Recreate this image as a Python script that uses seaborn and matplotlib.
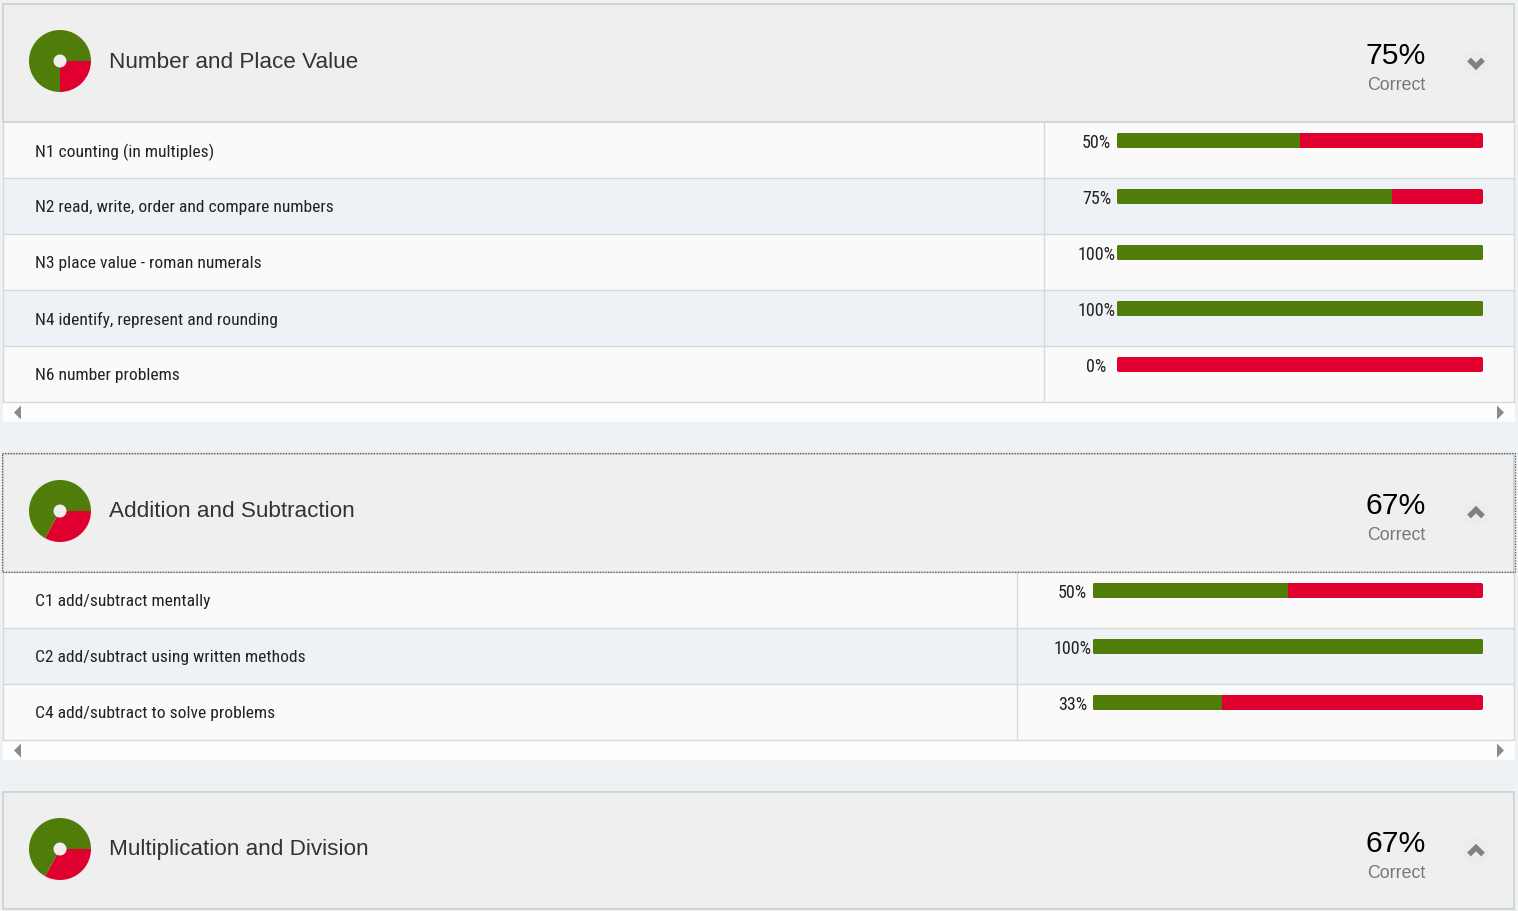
import matplotlib
matplotlib.use("Agg")
import matplotlib.pyplot as plt
from matplotlib.patches import Circle, FancyBboxPatch, Polygon, Rectangle
import pandas as pd
import seaborn as sns

# -------------------------
# Data
# -------------------------
section_titles = ["Number and Place Value", "Addition and Subtraction", "Multiplication and Division"]
section_scores = [75, 67, 67]

number_topics = [
    "N1 counting (in multiples)",
    "N2 read, write, order and compare numbers",
    "N3 place value - roman numerals",
    "N4 identify, represent and rounding",
    "N6 number problems",
]
number_correct = [50, 75, 100, 100, 0]

addition_topics = [
    "C1 add/subtract mentally",
    "C2 add/subtract using written methods",
    "C4 add/subtract to solve problems",
]
addition_correct = [50, 100, 33]

# -------------------------
# Colours and layout (pixels)
# -------------------------
GREEN = "#507c0a"
RED = "#df0030"
PAGE = "#eef2f5"
HEADER = "#efefef"
ROW_ODD = "#fafafa"
ROW_EVEN = "#eef2f6"
LINE = "#d6d8da"
WIDTH, HEIGHT = 1518, 912
ROW_H = 56
BAR_H = 15
LEFT = 3.0
RIGHT = 1514.0

HEAD = ["Liberation Sans", "DejaVu Sans"]
NARROW = ["Roboto Condensed", "Liberation Sans Narrow", "Roboto"]

sns.set_theme(style="white")
fig = plt.figure(figsize=(WIDTH / 100, HEIGHT / 100), dpi=100, facecolor=PAGE)
bg = fig.add_axes([0, 0, 1, 1])
bg.set_xlim(0, WIDTH)
bg.set_ylim(HEIGHT - 1, -1)
bg.set_axis_off()


def px_axes(x0, y0, x1, y1):
    """Axes placed by pixel box, y counted from the top."""
    ax = fig.add_axes([x0 / WIDTH, 1 - (y1 + 1) / HEIGHT, (x1 - x0) / WIDTH, (y1 - y0) / HEIGHT])
    ax.patch.set_alpha(0)
    return ax


def draw_header(top, bottom, title, score, chevron_up, dotted=False):
    bg.add_patch(Rectangle((LEFT, top), RIGHT - LEFT, bottom - top, fc=HEADER, ec="#cdd0d2", lw=1.2, zorder=3))
    if dotted:
        bg.add_patch(Rectangle((LEFT - 1, top - 1), RIGHT - LEFT + 2, bottom - top + 1, fc="none",
                               ec="#555555", lw=0.9, ls=(0, (1, 1.2)), zorder=3))
    mid = top + 57

    # score pie, red part runs clockwise from three o'clock
    pie_ax = px_axes(28, mid - 32, 92, mid + 32)
    pie_ax.pie([100 - score, score], colors=[RED, GREEN], startangle=0, counterclock=False,
               radius=31 / 32, wedgeprops={"width": 24.5 / 32, "linewidth": 0})
    pie_ax.set_xlim(-1, 1)
    pie_ax.set_ylim(-1, 1)

    bg.text(109, mid, title, fontsize=16.2, color="#333333", family=HEAD, va="center", ha="left", zorder=4)
    bg.text(1426, mid - 6, f"{score}%", fontsize=21.7, color="#000000", family=HEAD, va="center", ha="right", zorder=4)
    bg.text(1425, mid + 24, "Correct", fontsize=12.75, color="#777777", family=HEAD, va="center", ha="right", zorder=4)

    # expand button
    bg.add_patch(Circle((1476, mid + 2), 13, fc="#ececec", ec="none", zorder=4))
    tip = -3.5 if chevron_up else 3.5
    bg.plot([1469, 1476, 1483], [mid + 2 - tip, mid + 2 + tip, mid + 2 - tip], color="#808080",
            lw=3.8, solid_capstyle="butt", solid_joinstyle="miter", zorder=5)


def draw_table(top, topics, correct, divider, bar_left):
    n = len(topics)
    bottom = top + n * ROW_H
    for i, topic in enumerate(topics):
        y0 = top + i * ROW_H
        bg.add_patch(Rectangle((LEFT, y0 - 1), RIGHT - LEFT, ROW_H, fc=ROW_ODD if i % 2 == 0 else ROW_EVEN,
                               ec="none"))
        bg.plot([LEFT, RIGHT], [y0 + ROW_H - 1.5] * 2, color=LINE, lw=1)
        bg.text(35, y0 + 28, topic, fontsize=12.6, color="#222222", family=NARROW, va="center", ha="left")
        bg.text(bar_left - 20.5, y0 + 19, f"{correct[i]}%", fontsize=13, color="#222222",
                family=NARROW, va="center", ha="center")
    bg.plot([divider] * 2, [top, bottom - 1], color=LINE, lw=1)
    bg.plot([LEFT, LEFT], [top, bottom - 1], color=LINE, lw=1)
    bg.plot([RIGHT, RIGHT], [top, bottom - 1], color=LINE, lw=1)

    # scrollbar strip under the table
    bg.add_patch(Rectangle((LEFT, bottom - 1), RIGHT - LEFT + 1, 20, fc="#fdfdfd", ec="none"))
    mid = bottom + 9.5
    bg.add_patch(Polygon([(21, mid - 7), (21, mid + 7), (14, mid)], fc="#8a8a8a", ec="none"))
    bg.add_patch(Polygon([(1497, mid - 7), (1497, mid + 7), (1504, mid)], fc="#8a8a8a", ec="none"))

    # one band per row, centred on the bar rather than the row
    bar_mid = top + 17.5
    ax = px_axes(bar_left, bar_mid - ROW_H / 2, 1483, bar_mid - ROW_H / 2 + n * ROW_H)
    df = pd.DataFrame({"topic": topics, "correct": correct, "total": [100] * n})
    sns.barplot(data=df, x="total", y="topic", color=RED, width=BAR_H / ROW_H, saturation=1,
                linewidth=0, ax=ax)
    sns.barplot(data=df, x="correct", y="topic", color=GREEN, width=BAR_H / ROW_H, saturation=1,
                linewidth=0, ax=ax)
    ax.set_xlim(0, 100)
    ax.set_ylim(n - 0.5, -0.5)
    ax.set_axis_off()

    # rounded bar ends
    for i in range(n):
        clip = FancyBboxPatch((bar_left, bar_mid + i * ROW_H - BAR_H / 2), 1483 - bar_left, BAR_H,
                              boxstyle="round,pad=0,rounding_size=2", transform=bg.transData)
        for bar in ax.patches:
            if abs(bar.get_y() + bar.get_height() / 2 - i) < 0.2:
                bar.set_clip_path(clip)


draw_header(4, 122, section_titles[0], section_scores[0], chevron_up=False)
draw_table(123, number_topics, number_correct, 1044, 1117)

draw_header(454, 572, section_titles[1], section_scores[1], chevron_up=True, dotted=True)
draw_table(573, addition_topics, addition_correct, 1017, 1093)

draw_header(792, 909, section_titles[2], section_scores[2], chevron_up=True)

fig.savefig("out.png", dpi=100, facecolor=PAGE)
